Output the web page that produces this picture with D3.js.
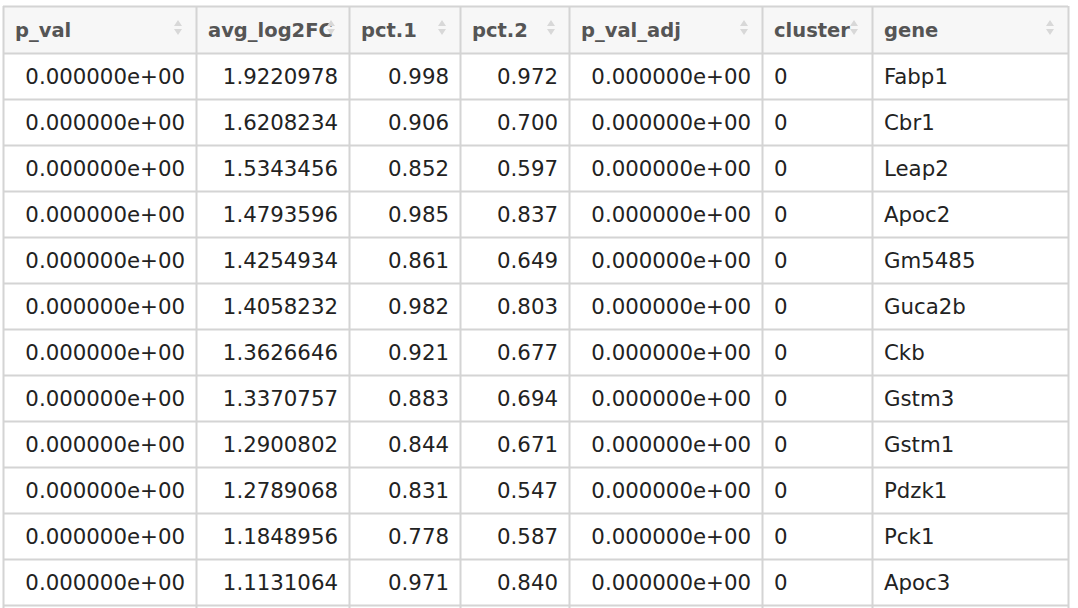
<!DOCTYPE html>
<html><head><meta charset="utf-8">
<script src="https://d3js.org/d3.v7.min.js"></script>
<style>body{margin:0;background:#fff}</style></head>
<body><svg id="c" width="1078" height="608"></svg>
<script>
const columns = ["p_val","avg_log2FC","pct.1","pct.2","p_val_adj","cluster","gene"];
const p_val = Array(12).fill("0.000000e+00");
const avg_log2FC = ["1.9220978","1.6208234","1.5343456","1.4793596","1.4254934","1.4058232","1.3626646","1.3370757","1.2900802","1.2789068","1.1848956","1.1131064"];
const pct1 = ["0.998","0.906","0.852","0.985","0.861","0.982","0.921","0.883","0.844","0.831","0.778","0.971"];
const pct2 = ["0.972","0.700","0.597","0.837","0.649","0.803","0.677","0.694","0.671","0.547","0.587","0.840"];
const p_val_adj = Array(12).fill("0.000000e+00");
const cluster = Array(12).fill("0");
const gene = ["Fabp1","Cbr1","Leap2","Apoc2","Gm5485","Guca2b","Ckb","Gstm3","Gstm1","Pdzk1","Pck1","Apoc3"];
const colData = [p_val,avg_log2FC,pct1,pct2,p_val_adj,cluster,gene];
const alignRight = [true,true,true,true,true,false,false];
const edges = [3,196,349,460,569,762,872,1068];

const svg = d3.select("#c");
const x = i => edges[i];
const nRows = 12;
const rowTop = r => r===0 ? 6 : 53 + (r-1)*46;
const rowBot = r => r===0 ? 53 : 53 + r*46;

svg.append("rect").attr("x",x(0)).attr("y",6).attr("width",x(7)-x(0)).attr("height",47).attr("fill","#f7f7f7");
const hl = [6]; for(let r=0;r<=nRows;r++) hl.push(rowBot(r));
svg.selectAll("line.h").data(hl).join("line").attr("x1",x(0)).attr("x2",x(7))
  .attr("y1",d=>d+0.5).attr("y2",d=>d+0.5).attr("stroke","#d4d4d4").attr("stroke-width",2);
svg.selectAll("line.v").data(edges).join("line").attr("y1",6).attr("y2",608)
  .attr("x1",d=>d+0.5).attr("x2",d=>d+0.5).attr("stroke","#d4d4d4").attr("stroke-width",2);

columns.forEach((c,i)=>{
  svg.append("text").attr("x",x(i)+12).attr("y",37).text(c)
    .attr("font-family","DejaVu Sans").attr("font-weight","bold").attr("font-size",19.5).attr("fill","#555");
  const ax = x(i+1)-18;
  svg.append("path").attr("d",`M${ax-4},26 L${ax+4},26 L${ax},20 Z`).attr("fill","#d8d8d8");
  svg.append("path").attr("d",`M${ax-4},29 L${ax+4},29 L${ax},35 Z`).attr("fill","#d8d8d8");
});
colData.forEach((col,i)=>{
  svg.selectAll(null).data(col).join("text")
    .attr("x", alignRight[i] ? x(i+1)-11 : x(i)+12)
    .attr("y",(d,r)=>rowTop(r+1)+31)
    .attr("text-anchor", alignRight[i] ? "end":"start")
    .attr("font-family","DejaVu Sans").attr("font-size",21.3).attr("fill","#222")
    .text(d=>d);
});
</script></body></html>
